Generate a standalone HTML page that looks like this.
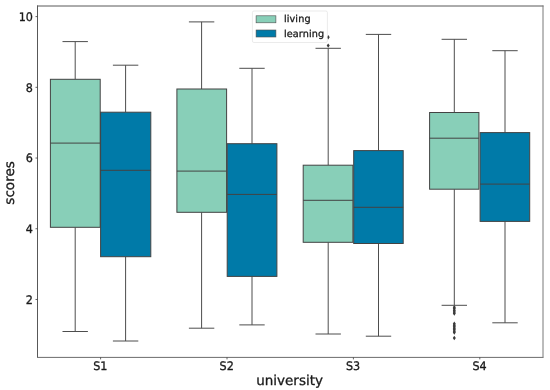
<!DOCTYPE html>
<html lang="en"><head><meta charset="utf-8"><title>scores by university</title>
<style>html,body{margin:0;padding:0;background:#fff;}body{width:550px;height:390px;overflow:hidden;}svg{display:block;}text{font-family:"DejaVu Sans","Liberation Sans",sans-serif;fill:#1a1a1a;stroke:#1a1a1a;stroke-width:0.3px;text-rendering:geometricPrecision;}</style>
</head><body>
<svg width="550" height="390" viewBox="0 0 550 390">
<rect width="550" height="390" fill="#ffffff"/>
<g id="fliers">
<path d="M328.20 35.10L329.70 37.30L328.20 39.50L326.70 37.30Z" fill="#3a3a3a"/>
<path d="M328.20 43.40L329.70 45.60L328.20 47.80L326.70 45.60Z" fill="#3a3a3a"/>
<path d="M454.30 305.00L455.80 307.20L454.30 309.40L452.80 307.20Z" fill="#3a3a3a"/>
<path d="M454.30 306.60L455.80 308.80L454.30 311.00L452.80 308.80Z" fill="#3a3a3a"/>
<path d="M454.30 308.20L455.80 310.40L454.30 312.60L452.80 310.40Z" fill="#3a3a3a"/>
<path d="M454.30 309.80L455.80 312.00L454.30 314.20L452.80 312.00Z" fill="#3a3a3a"/>
<path d="M454.30 311.40L455.80 313.60L454.30 315.80L452.80 313.60Z" fill="#3a3a3a"/>
<path d="M454.30 321.60L455.80 323.80L454.30 326.00L452.80 323.80Z" fill="#3a3a3a"/>
<path d="M454.30 323.07L455.80 325.27L454.30 327.47L452.80 325.27Z" fill="#3a3a3a"/>
<path d="M454.30 324.53L455.80 326.73L454.30 328.93L452.80 326.73Z" fill="#3a3a3a"/>
<path d="M454.30 326.00L455.80 328.20L454.30 330.40L452.80 328.20Z" fill="#3a3a3a"/>
<path d="M454.30 327.47L455.80 329.67L454.30 331.87L452.80 329.67Z" fill="#3a3a3a"/>
<path d="M454.30 328.93L455.80 331.13L454.30 333.33L452.80 331.13Z" fill="#3a3a3a"/>
<path d="M454.30 330.40L455.80 332.60L454.30 334.80L452.80 332.60Z" fill="#3a3a3a"/>
<path d="M454.30 335.80L455.80 338.00L454.30 340.20L452.80 338.00Z" fill="#3a3a3a"/>
</g>
<g id="whiskers" stroke="#4d4d4d" stroke-width="1" fill="none">
<path d="M75.2 41.6V79.3M75.2 227.3V331.5M62.5 41.6H87.9M62.5 331.5H87.9"/>
<path d="M125.6 65.2V112.2M125.6 256.7V341.0M112.9 65.2H138.3M112.9 341.0H138.3"/>
<path d="M201.6 21.9V89.0M201.6 212.3V328.2M188.9 21.9H214.3M188.9 328.2H214.3"/>
<path d="M252.0 68.3V143.7M252.0 276.4V324.9M239.3 68.3H264.7M239.3 324.9H264.7"/>
<path d="M328.2 48.3V165.2M328.2 242.3V334.0M315.5 48.3H340.9M315.5 334.0H340.9"/>
<path d="M378.5 34.4V150.6M378.5 243.5V336.2M365.8 34.4H391.2M365.8 336.2H391.2"/>
<path d="M454.3 39.3V112.5M454.3 189.2V305.3M441.6 39.3H467.0M441.6 305.3H467.0"/>
<path d="M505.0 50.7V132.6M505.0 221.4V322.8M492.3 50.7H517.7M492.3 322.8H517.7"/>
</g>
<g id="boxes" stroke="#434343" stroke-width="1">
<rect x="50.4" y="79.3" width="49.80" height="148.00" fill="#88cfb8"/>
<path d="M50.4 143.1H100.2"/>
<rect x="100.6" y="112.2" width="50.20" height="144.50" fill="#007aa8"/>
<path d="M100.6 170.3H150.8"/>
<rect x="176.9" y="89.0" width="49.70" height="123.30" fill="#88cfb8"/>
<path d="M176.9 171.1H226.6"/>
<rect x="227.2" y="143.7" width="49.70" height="132.70" fill="#007aa8"/>
<path d="M227.2 194.4H276.9"/>
<rect x="303.2" y="165.2" width="49.70" height="77.10" fill="#88cfb8"/>
<path d="M303.2 200.3H352.9"/>
<rect x="353.7" y="150.6" width="49.50" height="92.90" fill="#007aa8"/>
<path d="M353.7 207.3H403.2"/>
<rect x="429.6" y="112.5" width="49.30" height="76.70" fill="#88cfb8"/>
<path d="M429.6 138.2H478.9"/>
<rect x="480.1" y="132.6" width="49.60" height="88.80" fill="#007aa8"/>
<path d="M480.1 184.1H529.7"/>
</g>
<g id="spines" stroke="#3c3c3c" stroke-width="1" fill="none">
<path d="M37.5 5.5V357.4" stroke="#585858"/>
<path d="M37.0 357.4H543.5" stroke="#6c6c6c"/>
<path d="M37.0 6.0H543.5" stroke="#585858"/>
<path d="M543.0 5.5V357.4" stroke="#787878"/>
</g>
<g id="ticks" stroke="#3c3c3c" stroke-width="0.8">
<path d="M35.5 299.48H37.5"/>
<path d="M35.5 228.76H37.5"/>
<path d="M35.5 158.04H37.5"/>
<path d="M35.5 87.32H37.5"/>
<path d="M35.5 16.60H37.5"/>
<path d="M100.60 357.4V359.4"/>
<path d="M227.00 357.4V359.4"/>
<path d="M353.40 357.4V359.4"/>
<path d="M479.80 357.4V359.4"/>
</g>
<g id="ylabels" font-size="11.2" text-anchor="end">
<text transform="translate(32.9 303.78) scale(1 1.05)">2</text>
<text transform="translate(32.9 233.06) scale(1 1.05)">4</text>
<text transform="translate(32.9 162.34) scale(1 1.05)">6</text>
<text transform="translate(32.9 91.62) scale(1 1.05)">8</text>
<text transform="translate(32.9 20.90) scale(1 1.05)">10</text>
</g>
<g id="xlabels" font-size="11.2" text-anchor="middle">
<text transform="translate(100.30 369.8) scale(1 1.05)">S1</text>
<text transform="translate(226.70 369.8) scale(1 1.05)">S2</text>
<text transform="translate(353.10 369.8) scale(1 1.05)">S3</text>
<text transform="translate(479.50 369.8) scale(1 1.05)">S4</text>
</g>
<text x="289.6" y="385.4" font-size="13.5" text-anchor="middle">university</text>
<text transform="translate(13.6 182.9) rotate(-90)" font-size="13.6" text-anchor="middle">scores</text>
<g id="legend" style="stroke-width:0.15px" letter-spacing="0.12">
<rect x="252.4" y="11.0" width="75.0" height="31.5" rx="1.5" ry="1.5" fill="#ffffff" fill-opacity="0.8" stroke="#d4d4d4" stroke-opacity="0.8" stroke-width="0.6"/>
<rect x="256.1" y="15.8" width="19.8" height="7.0" fill="#88cfb8" stroke="#4d4d4d" stroke-width="0.6"/>
<rect x="256.1" y="30.0" width="19.8" height="7.0" fill="#007aa8" stroke="#4d4d4d" stroke-width="0.6"/>
<text x="283.9" y="22.4" font-size="9.7">living</text>
<text x="283.9" y="36.7" font-size="9.7">learning</text>
</g>
</svg>
</body></html>
